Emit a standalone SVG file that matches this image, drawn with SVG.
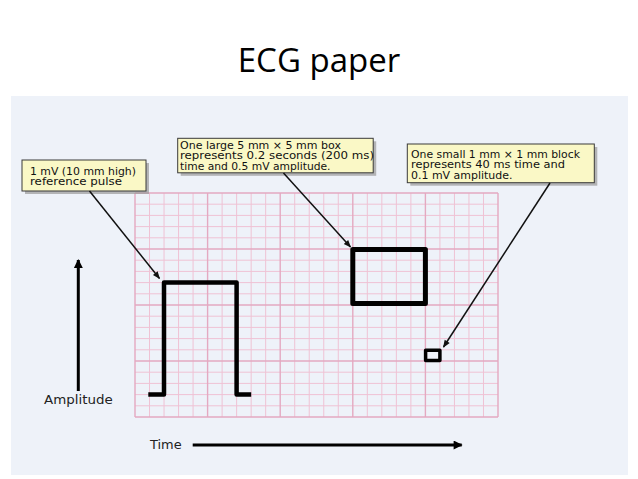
<svg xmlns="http://www.w3.org/2000/svg" width="638" height="479" viewBox="0 0 638 479">
<defs>
<style>
.minor{fill:none;stroke:#efc2d4;stroke-width:1}
.major{fill:none;stroke:#e4a9c1;stroke-width:1.4}
.callout{fill:#faf8c6;stroke:#3a3a3a;stroke-width:1}
.shadow{fill:#9a9a9a;opacity:0.7}
.ct{font-family:"DejaVu Sans",Verdana,sans-serif;font-size:10px;fill:#111}
.ax{font-family:"DejaVu Sans",Verdana,sans-serif;font-size:11.5px;fill:#222}
.leader{fill:none;stroke:#111;stroke-width:1.5}
.thick{fill:none;stroke:#000;stroke-linejoin:round}
</style>
<marker id="ah" viewBox="0 0 10 10" refX="9" refY="5" markerWidth="5.5" markerHeight="5" orient="auto" markerUnits="strokeWidth">
<path d="M0 1L10 5L0 9z" fill="#111"/>
</marker>
<marker id="ah2" viewBox="0 0 10 10" refX="9" refY="5" markerWidth="3.4" markerHeight="3" orient="auto" markerUnits="strokeWidth">
<path d="M0 0L10 5L0 10z" fill="#000"/>
</marker>
</defs>
<rect width="638" height="479" fill="#ffffff"/>
<text x="319" y="72" text-anchor="middle" font-family="Open Sans, Liberation Sans, sans-serif" font-size="33" fill="#000">ECG paper</text>
<rect x="11" y="96" width="617" height="379" fill="#eef2f9"/>
<g id="grid">
<path class="minor" d="M149.52 193V417M164.04 193V417M178.56 193V417M193.08 193V417M222.12 193V417M236.64 193V417M251.16 193V417M265.68 193V417M294.72 193V417M309.24 193V417M323.76 193V417M338.28 193V417M367.32 193V417M381.84 193V417M396.36 193V417M410.88 193V417M439.92 193V417M454.44 193V417M468.96 193V417M483.48 193V417M135 204.2H498M135 215.4H498M135 226.6H498M135 237.8H498M135 260.2H498M135 271.4H498M135 282.6H498M135 293.8H498M135 316.2H498M135 327.4H498M135 338.6H498M135 349.8H498M135 372.2H498M135 383.4H498M135 394.6H498M135 405.8H498"/>
<path class="major" d="M135 193V417M207.6 193V417M280.2 193V417M352.8 193V417M425.4 193V417M498 193V417M135 193H498M135 249H498M135 305H498M135 361H498M135 417H498"/>
</g>
<g id="pulse">
<path class="thick" stroke-width="4.5" d="M148.3 394.6H164V282.6H236.6V394.6H251.2"/>
</g>
<g id="large-box">
<rect class="thick" stroke-width="5" x="352.8" y="249.5" width="72.6" height="54"/>
</g>
<g id="small-box">
<rect class="thick" stroke-width="3.5" x="425.6" y="350.2" width="14.3" height="10.4"/>
</g>
<g id="callout-pulse">
<rect class="shadow" x="25" y="163" width="124" height="31"/>
<rect class="callout" x="22" y="160" width="124" height="31"/>
<text class="ct" x="30" y="175" textLength="106" lengthAdjust="spacingAndGlyphs">1 mV (10 mm high)</text>
<text class="ct" x="30" y="185.2" textLength="92" lengthAdjust="spacingAndGlyphs">reference pulse</text>
</g>
<g id="callout-large">
<rect class="shadow" x="180.7" y="141.3" width="195.5" height="34.5"/>
<rect class="callout" x="177.7" y="138.3" width="195.5" height="34.5"/>
<text class="ct" x="180" y="148.8" textLength="161" lengthAdjust="spacingAndGlyphs">One large 5 mm × 5 mm box</text>
<text class="ct" x="180" y="159.4" textLength="194" lengthAdjust="spacingAndGlyphs">represents 0.2 seconds (200 ms)</text>
<text class="ct" x="180" y="169.8" textLength="150.5" lengthAdjust="spacingAndGlyphs">time and 0.5 mV amplitude.</text>
</g>
<g id="callout-small">
<rect class="shadow" x="410.3" y="147" width="187" height="38.7"/>
<rect class="callout" x="407.3" y="144" width="187" height="38.7"/>
<text class="ct" x="411" y="157.8" textLength="169" lengthAdjust="spacingAndGlyphs">One small 1 mm × 1 mm block</text>
<text class="ct" x="411" y="168.3" textLength="154" lengthAdjust="spacingAndGlyphs">represents 40 ms time and</text>
<text class="ct" x="411" y="178.9" textLength="101.5" lengthAdjust="spacingAndGlyphs">0.1 mV amplitude.</text>
</g>
<g id="axis-amplitude">
<text class="ax" x="44" y="404" textLength="68.7" lengthAdjust="spacingAndGlyphs">Amplitude</text>
</g>
<g id="axis-time">
<text class="ax" x="150" y="449" textLength="31.7" lengthAdjust="spacingAndGlyphs">Time</text>
</g>
<g id="connectors">
<path class="leader" d="M89.5 191L159.5 278.5" marker-end="url(#ah)"/>
<path class="leader" d="M283.5 173L350.5 247" marker-end="url(#ah)"/>
<path class="leader" d="M550 183L443.5 347" marker-end="url(#ah)"/>
<path fill="none" stroke="#000" stroke-width="3" d="M78.3 391V260" marker-end="url(#ah2)"/>
<path fill="none" stroke="#000" stroke-width="3" d="M192.7 445H461.7" marker-end="url(#ah2)"/>
</g>
</svg>
